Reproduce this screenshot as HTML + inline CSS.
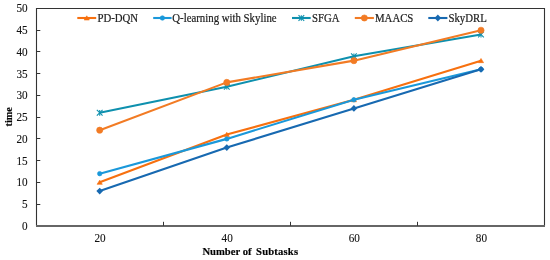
<!DOCTYPE html>
<html><head><meta charset="utf-8"><style>
html,body{margin:0;padding:0;background:#fff;width:550px;height:260px;overflow:hidden}
svg{display:block}
.t{font-family:"Liberation Serif",serif;font-size:11.2px;fill:#111;stroke:#111;stroke-width:0.1px}
.lg{font-family:"Liberation Serif",serif;font-size:10.8px;fill:#222;stroke:#222;stroke-width:0.2px}
.ti{font-family:"Liberation Serif",serif;font-size:10.65px;font-weight:bold;fill:#000;stroke:#000;stroke-width:0.15px}
</style></head><body>
<svg width="550" height="260" viewBox="0 0 550 260">
<path d="M36.5 225.80 V8.5 H544.5 V225.80" fill="none" stroke="#333" stroke-width="1.1"/>
<line x1="36" y1="226" x2="545" y2="226" stroke="#666" stroke-width="2"/>
<text transform="translate(27.6 229.70) scale(1 1.1)" text-anchor="end" class="t">0</text>
<line x1="37" y1="204.5" x2="40.3" y2="204.5" stroke="#333" stroke-width="1"/>
<text transform="translate(27.6 207.97) scale(1 1.1)" text-anchor="end" class="t">5</text>
<line x1="37" y1="182.5" x2="40.3" y2="182.5" stroke="#333" stroke-width="1"/>
<text transform="translate(27.6 186.24) scale(1 1.1)" text-anchor="end" class="t">10</text>
<line x1="37" y1="160.5" x2="40.3" y2="160.5" stroke="#333" stroke-width="1"/>
<text transform="translate(27.6 164.51) scale(1 1.1)" text-anchor="end" class="t">15</text>
<line x1="37" y1="138.5" x2="40.3" y2="138.5" stroke="#333" stroke-width="1"/>
<text transform="translate(27.6 142.78) scale(1 1.1)" text-anchor="end" class="t">20</text>
<line x1="37" y1="117.5" x2="40.3" y2="117.5" stroke="#333" stroke-width="1"/>
<text transform="translate(27.6 121.05) scale(1 1.1)" text-anchor="end" class="t">25</text>
<line x1="37" y1="95.5" x2="40.3" y2="95.5" stroke="#333" stroke-width="1"/>
<text transform="translate(27.6 99.32) scale(1 1.1)" text-anchor="end" class="t">30</text>
<line x1="37" y1="73.5" x2="40.3" y2="73.5" stroke="#333" stroke-width="1"/>
<text transform="translate(27.6 77.59) scale(1 1.1)" text-anchor="end" class="t">35</text>
<line x1="37" y1="51.5" x2="40.3" y2="51.5" stroke="#333" stroke-width="1"/>
<text transform="translate(27.6 55.86) scale(1 1.1)" text-anchor="end" class="t">40</text>
<line x1="37" y1="30.5" x2="40.3" y2="30.5" stroke="#333" stroke-width="1"/>
<text transform="translate(27.6 34.13) scale(1 1.1)" text-anchor="end" class="t">45</text>
<text transform="translate(27.6 12.40) scale(1 1.1)" text-anchor="end" class="t">50</text>
<line x1="163.5" y1="225.80" x2="163.5" y2="221.8" stroke="#333" stroke-width="1"/>
<line x1="290.5" y1="225.80" x2="290.5" y2="221.8" stroke="#333" stroke-width="1"/>
<line x1="417.5" y1="225.80" x2="417.5" y2="221.8" stroke="#333" stroke-width="1"/>
<text transform="translate(100.1 241.9) scale(1 1.1)" text-anchor="middle" class="t">20</text>
<text transform="translate(227.2 241.9) scale(1 1.1)" text-anchor="middle" class="t">40</text>
<text transform="translate(354.3 241.9) scale(1 1.1)" text-anchor="middle" class="t">60</text>
<text transform="translate(481.4 241.9) scale(1 1.1)" text-anchor="middle" class="t">80</text>
<polyline points="99.70,182.34 226.80,134.53 353.90,99.77 481.00,60.65" fill="none" stroke="#F7700F" stroke-width="2.1" stroke-linejoin="round"/>
<path d="M99.70 180.14 L102.30 184.34 L97.10 184.34 Z" fill="#F7700F" stroke="#F7700F" stroke-width="0.6" stroke-linejoin="round"/>
<path d="M226.80 132.33 L229.40 136.53 L224.20 136.53 Z" fill="#F7700F" stroke="#F7700F" stroke-width="0.6" stroke-linejoin="round"/>
<path d="M353.90 97.57 L356.50 101.77 L351.30 101.77 Z" fill="#F7700F" stroke="#F7700F" stroke-width="0.6" stroke-linejoin="round"/>
<path d="M481.00 58.45 L483.60 62.65 L478.40 62.65 Z" fill="#F7700F" stroke="#F7700F" stroke-width="0.6" stroke-linejoin="round"/>
<polyline points="99.70,173.65 226.80,138.88 353.90,99.77 481.00,69.34" fill="none" stroke="#1A98DA" stroke-width="2.1" stroke-linejoin="round"/>
<circle cx="99.70" cy="173.65" r="2.25" fill="#1A98DA" stroke="#1A98DA" stroke-width="0.6"/>
<circle cx="226.80" cy="138.88" r="2.25" fill="#1A98DA" stroke="#1A98DA" stroke-width="0.6"/>
<circle cx="353.90" cy="99.77" r="2.25" fill="#1A98DA" stroke="#1A98DA" stroke-width="0.6"/>
<circle cx="481.00" cy="69.34" r="2.25" fill="#1A98DA" stroke="#1A98DA" stroke-width="0.6"/>
<polyline points="99.70,112.80 226.80,86.73 353.90,56.31 481.00,34.58" fill="none" stroke="#0E90AE" stroke-width="2.1" stroke-linejoin="round"/>
<g stroke="#0E90AE" stroke-width="1.1" fill="none"><line x1="96.85" y1="109.95" x2="102.55" y2="115.65"/><line x1="96.85" y1="115.65" x2="102.55" y2="109.95"/><line x1="99.70" y1="109.95" x2="99.70" y2="115.65"/></g>
<g stroke="#0E90AE" stroke-width="1.1" fill="none"><line x1="223.95" y1="83.88" x2="229.65" y2="89.58"/><line x1="223.95" y1="89.58" x2="229.65" y2="83.88"/><line x1="226.80" y1="83.88" x2="226.80" y2="89.58"/></g>
<g stroke="#0E90AE" stroke-width="1.1" fill="none"><line x1="351.05" y1="53.46" x2="356.75" y2="59.16"/><line x1="351.05" y1="59.16" x2="356.75" y2="53.46"/><line x1="353.90" y1="53.46" x2="353.90" y2="59.16"/></g>
<g stroke="#0E90AE" stroke-width="1.1" fill="none"><line x1="478.15" y1="31.73" x2="483.85" y2="37.43"/><line x1="478.15" y1="37.43" x2="483.85" y2="31.73"/><line x1="481.00" y1="31.73" x2="481.00" y2="37.43"/></g>
<polyline points="99.70,130.19 226.80,82.38 353.90,60.65 481.00,30.23" fill="none" stroke="#F27B24" stroke-width="2.1" stroke-linejoin="round"/>
<circle cx="99.70" cy="130.19" r="3.1" fill="#F27B24" stroke="#F27B24" stroke-width="0.6"/>
<circle cx="226.80" cy="82.38" r="3.1" fill="#F27B24" stroke="#F27B24" stroke-width="0.6"/>
<circle cx="353.90" cy="60.65" r="3.1" fill="#F27B24" stroke="#F27B24" stroke-width="0.6"/>
<circle cx="481.00" cy="30.23" r="3.1" fill="#F27B24" stroke="#F27B24" stroke-width="0.6"/>
<polyline points="99.70,191.03 226.80,147.57 353.90,108.46 481.00,69.34" fill="none" stroke="#1769B1" stroke-width="2.1" stroke-linejoin="round"/>
<path d="M99.70 187.63 L103.05 191.03 L99.70 194.43 L96.35 191.03 Z" fill="#1769B1"/>
<path d="M226.80 144.17 L230.15 147.57 L226.80 150.97 L223.45 147.57 Z" fill="#1769B1"/>
<path d="M353.90 105.06 L357.25 108.46 L353.90 111.86 L350.55 108.46 Z" fill="#1769B1"/>
<path d="M481.00 65.94 L484.35 69.34 L481.00 72.74 L477.65 69.34 Z" fill="#1769B1"/>
<line x1="77.3" y1="18.0" x2="96.2" y2="18.0" stroke="#F7700F" stroke-width="2.1"/>
<path d="M86.75 15.80 L89.35 20.00 L84.15 20.00 Z" fill="#F7700F" stroke="#F7700F" stroke-width="0.6" stroke-linejoin="round"/>
<text transform="translate(97.4 21.7) scale(1 1.12)" class="lg">PD-DQN</text>
<line x1="153.2" y1="18.0" x2="171.6" y2="18.0" stroke="#1A98DA" stroke-width="2.1"/>
<circle cx="162.40" cy="18.00" r="2.25" fill="#1A98DA" stroke="#1A98DA" stroke-width="0.6"/>
<text transform="translate(172.3 21.7) scale(1 1.12)" class="lg">Q-learning with Skyline</text>
<line x1="292.0" y1="18.0" x2="310.7" y2="18.0" stroke="#0E90AE" stroke-width="2.1"/>
<g stroke="#0E90AE" stroke-width="1.1" fill="none"><line x1="298.50" y1="15.15" x2="304.20" y2="20.85"/><line x1="298.50" y1="20.85" x2="304.20" y2="15.15"/><line x1="301.35" y1="15.15" x2="301.35" y2="20.85"/></g>
<text transform="translate(312.0 21.7) scale(1 1.12)" class="lg">SFGA</text>
<line x1="354.8" y1="18.0" x2="373.9" y2="18.0" stroke="#F27B24" stroke-width="2.1"/>
<circle cx="364.35" cy="18.00" r="3.1" fill="#F27B24" stroke="#F27B24" stroke-width="0.6"/>
<text transform="translate(375.0 21.7) scale(1 1.12)" class="lg">MAACS</text>
<line x1="428.3" y1="18.0" x2="447.4" y2="18.0" stroke="#1769B1" stroke-width="2.1"/>
<path d="M437.85 14.60 L441.20 18.00 L437.85 21.40 L434.50 18.00 Z" fill="#1769B1"/>
<text transform="translate(448.4 21.7) scale(1 1.12)" class="lg">SkyDRL</text>
<text transform="translate(202.4 255.2) scale(1 1.07)" class="ti">Number of&#160; <tspan dx="-0.8" style="letter-spacing:0.17px">Subtasks</tspan></text>
<text transform="translate(12.2 116.8) rotate(-90) scale(1 1.07)" text-anchor="middle" class="ti" style="font-size:10.2px">time</text>
</svg>
</body></html>
